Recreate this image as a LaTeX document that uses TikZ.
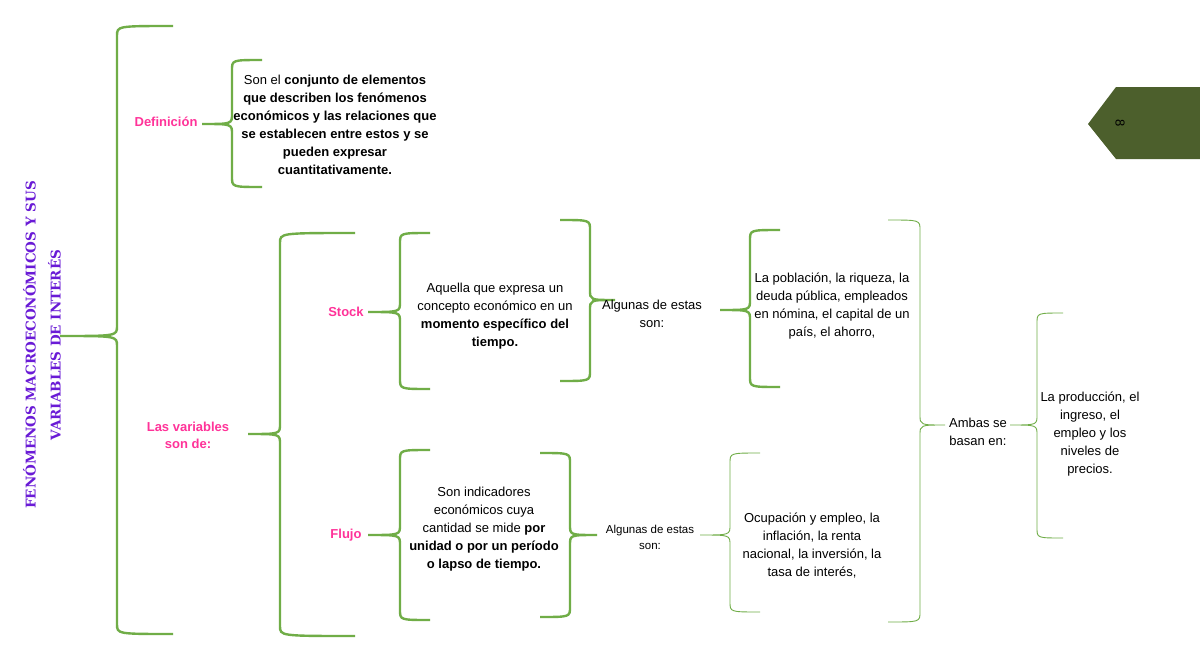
\documentclass[tikz,border=0pt]{standalone}
\usepackage{fontspec}
\setmainfont{Liberation Sans}
\newfontfamily\titlefont{DejaVu Serif}
\definecolor{gr}{HTML}{70AD47}
\definecolor{pk}{HTML}{FF3399}
\definecolor{pu}{HTML}{6A1BD6}
\definecolor{olive}{HTML}{4C5F2C}
\newcommand\lbr[7]{\draw[#1] (#2,#4) .. controls (#3,#4) .. (#3,#4+10) -- (#3,#7-10) .. controls (#3,#7) and (#3,#7) .. (#6,#7) .. controls (#3,#7) and (#3,#7) .. (#3,#7+10) -- (#3,#5-10) .. controls (#3,#5) .. (#2,#5);}
\tikzset{thk/.style={gr,line width=2.4pt},thn/.style={gr,line width=0.9pt},
 txt/.style={align=center,font=\fontsize{13}{18}\selectfont},
 lab/.style={align=center,text=pk,font=\bfseries\fontsize{13}{17}\selectfont}}
\begin{document}
\begin{tikzpicture}[x=1pt,y=-1pt]
\useasboundingbox (0,0) rectangle (1200,648);
\fill[white] (0,0) rectangle (1200,648);
\fill[olive] (1088,124) -- (1116,87) -- (1200,87) -- (1200,159) -- (1116,159) -- cycle;
\node[rotate=-90,font=\fontsize{13}{16}\selectfont] (pg) at (1120,123) {8};
\node[rotate=90,align=center,text=pu,font=\titlefont\bfseries\fontsize{13.5}{25}\selectfont] (title) at (42,345) {FENÓMENOS MACROECONÓMICOS Y SUS\\VARIABLES DE INTERÉS};
% braces
\lbr{thk}{173}{117}{26}{634}{60}{336}
\lbr{thk}{262}{232}{60}{187}{202}{124}
\lbr{thk}{355}{280}{233}{636}{248}{434}
\lbr{thk}{430}{400}{233}{389}{368}{312}
\lbr{thk}{560}{590}{220}{381}{615}{300}
\lbr{thk}{780}{750}{230}{387}{720}{310}
\lbr{thk}{430}{400}{450}{620}{368}{535}
\lbr{thk}{540}{570}{453}{617}{597}{535}
\lbr{thn}{760}{730}{453}{612}{700}{535}
\lbr{thn}{888}{920}{220}{622}{945}{425}
\lbr{thn}{1063}{1037}{313}{538}{1010}{425}
% labels
\node[lab,anchor=east] (def) at (201,122) {Definición};
\node[lab] (var) at (188,435) {Las variables\\son de:};
\node[lab] (stock) at (346,312) {Stock};
\node[lab] (flujo) at (346,535) {Flujo};
% texts
\node[txt] (t1) at (335,125) {Son el \textbf{conjunto de elementos}\\\textbf{que describen los fenómenos}\\\textbf{económicos y las relaciones que}\\\textbf{se establecen entre estos y se}\\\textbf{pueden expresar}\\\textbf{cuantitativamente.}};
\node[txt] (t2) at (495,316) {Aquella que expresa un\\concepto económico en un\\\textbf{momento específico del}\\\textbf{tiempo.}};
\node[txt] (t3) at (652,314) {Algunas de estas\\son:};
\node[txt] (t4) at (832,306) {La población, la riqueza, la\\deuda pública, empleados\\en nómina, el capital de un\\país, el ahorro,};
\node[txt] (t5) at (484,529) {Son indicadores\\económicos cuya\\cantidad se mide \textbf{por}\\\textbf{unidad o por un período}\\\textbf{o lapso de tiempo.}};
\node[txt,font=\fontsize{11.5}{16}\selectfont] (t6) at (650,537) {Algunas de estas\\son:};
\node[txt] (t7) at (812,546) {Ocupación y empleo, la\\inflación, la renta\\nacional, la inversión, la\\tasa de interés,};
\node[txt] (t8) at (978,432) {Ambas se\\basan en:};
\node[txt] (t9) at (1090,434) {La producción, el\\ingreso, el\\empleo y los\\niveles de\\precios.};
\end{tikzpicture}
\end{document}
